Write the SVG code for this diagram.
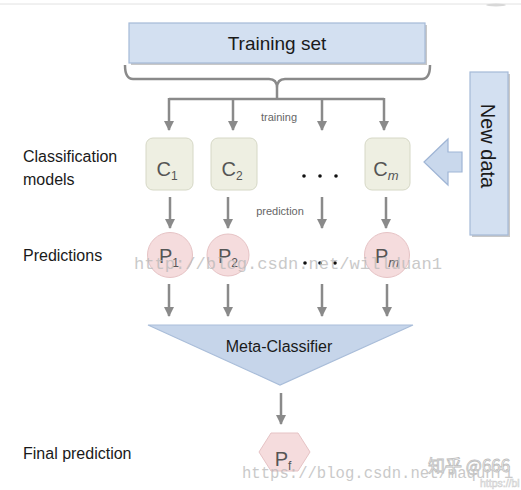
<svg xmlns="http://www.w3.org/2000/svg" width="521" height="490" viewBox="0 0 521 490">
<style>
.lbl{font-family:"Liberation Sans",Arial,sans-serif;font-size:16px;fill:#1a1a1a}
.small{font-family:"Liberation Sans",Arial,sans-serif;font-size:11px;fill:#666}
.sym{font-family:"Liberation Sans",Arial,sans-serif;font-size:20px;fill:#555}
.sub{font-size:12px}
.conn{stroke:#8a8a8a;stroke-width:2.5;fill:none}
.arr{stroke:#8a8a8a;stroke-width:2.5;fill:none;marker-end:url(#ah)}
.cbox{fill:#eeefe2;stroke:#d6d8c6;stroke-width:1}
.pc{fill:#f5dcdd;stroke:#e6c3c5;stroke-width:1}
.blue{fill:#d3e0f1;stroke:#a5bad8;stroke-width:1.2}
.wm{font-family:"Liberation Mono",monospace;font-size:17px;fill:#b8b8b8;opacity:0.75}
</style>
<defs>
<marker id="ah" viewBox="0 0 10 10" refX="9" refY="5" markerWidth="4" markerHeight="4" orient="auto" markerUnits="strokeWidth">
<path d="M0,0 L10,5 L0,10 z" fill="#8a8a8a"/>
</marker>
</defs>
<rect width="521" height="490" fill="#ffffff"/>
<line x1="0" y1="4" x2="521" y2="4" stroke="#e2e2e2" stroke-width="1"/>
<ellipse cx="496" cy="5" rx="10" ry="1.5" fill="#d8d8d8"/>

<g id="training-set">
<rect x="131" y="25" width="296" height="40" fill="#c8c8c8"/>
<rect x="129" y="23" width="296" height="40" class="blue"/>
<text x="277" y="50" text-anchor="middle" class="lbl" style="font-size:19px">Training set</text>
</g>

<g id="new-data">
<rect x="472" y="74" width="38" height="163" fill="#c8c8c8"/>
<rect x="470" y="72" width="38" height="163" class="blue"/>
<text transform="translate(481,146) rotate(90)" text-anchor="middle" class="lbl" style="font-size:20px">New data</text>
</g>

<g id="new-data-arrow">
<path d="M424,162 L448,139 L448,152 L462,152 L462,172 L448,172 L448,185 Z" fill="#c9d8ec" stroke="#9fb5d5" stroke-width="1.2"/>
</g>

<g id="labels">
<text x="23" y="162" class="lbl">Classification</text>
<text x="23" y="185" class="lbl">models</text>
<text x="23" y="261" class="lbl">Predictions</text>
<text x="23" y="459" class="lbl">Final prediction</text>
</g>

<g id="connectors">
<path class="conn" d="M125,65 Q125,79 133,79 L269,79 Q277,79 277,88 L277,99 M277,88 Q277,79 285,79 L422,79 Q430,79 430,65"/>
<line class="conn" x1="169" y1="99" x2="384" y2="99"/>
<line class="arr" x1="169" y1="98" x2="169" y2="130"/>
<line class="arr" x1="233" y1="98" x2="233" y2="130"/>
<line class="arr" x1="322" y1="98" x2="322" y2="130"/>
<line class="arr" x1="384" y1="98" x2="384" y2="130"/>
<text x="279" y="121" text-anchor="middle" class="small">training</text>
<line class="arr" x1="170" y1="197" x2="170" y2="228"/>
<line class="arr" x1="228" y1="197" x2="228" y2="228"/>
<line class="arr" x1="322" y1="197" x2="322" y2="228"/>
<line class="arr" x1="386" y1="197" x2="386" y2="228"/>
<text x="280" y="215" text-anchor="middle" class="small">prediction</text>
<line class="arr" x1="169" y1="284" x2="169" y2="316"/>
<line class="arr" x1="228" y1="284" x2="228" y2="316"/>
<line class="arr" x1="322" y1="284" x2="322" y2="316"/>
<line class="arr" x1="387" y1="284" x2="387" y2="316"/>
<line class="arr" x1="281" y1="393" x2="281" y2="424"/>
</g>

<g id="c1">
<rect x="146" y="138" width="47" height="52" rx="7" class="cbox"/>
<text x="167" y="176" text-anchor="middle" class="sym">C<tspan class="sub" dy="4">1</tspan></text>
</g>
<g id="c2">
<rect x="211" y="138" width="46" height="52" rx="7" class="cbox"/>
<text x="232" y="176" text-anchor="middle" class="sym">C<tspan class="sub" dy="4">2</tspan></text>
</g>
<g id="c-dots">
<circle cx="304" cy="176" r="1.8" fill="#111"/>
<circle cx="320" cy="176" r="1.8" fill="#111"/>
<circle cx="336" cy="176" r="1.8" fill="#111"/>
</g>
<g id="cm">
<rect x="365" y="138" width="45" height="52" rx="7" class="cbox"/>
<text x="386" y="176" text-anchor="middle" class="sym">C<tspan class="sub" dy="4" style="font-style:italic;font-size:13px">m</tspan></text>
</g>

<g id="p1">
<circle cx="170" cy="255" r="22.5" class="pc"/>
<text x="169" y="263" text-anchor="middle" class="sym">P<tspan class="sub" dy="4">1</tspan></text>
</g>
<g id="p2">
<circle cx="228" cy="255" r="21" class="pc"/>
<text x="228" y="263" text-anchor="middle" class="sym">P<tspan class="sub" dy="4">2</tspan></text>
</g>
<g id="p-dots">
<circle cx="305" cy="263" r="1.8" fill="#111"/>
<circle cx="320" cy="263" r="1.8" fill="#111"/>
<circle cx="335" cy="263" r="1.8" fill="#111"/>
</g>
<g id="pm">
<circle cx="387" cy="255" r="22.5" class="pc"/>
<text x="387" y="263" text-anchor="middle" class="sym">P<tspan class="sub" dy="4" style="font-style:italic;font-size:13px">m</tspan></text>
</g>

<g id="meta-classifier">
<polygon points="148,325 413,325 280,385" fill="#c6d5ea" stroke="#a9bdd9" stroke-width="1.2"/>
<text x="279" y="352" text-anchor="middle" class="lbl">Meta-Classifier</text>
</g>

<g id="pf">
<polygon points="259,452 271,433 298,433 310,452 298,471 271,471" fill="#f5dcdd" stroke="#e6c3c5" stroke-width="1"/>
<text x="283" y="466" text-anchor="middle" class="sym">P<tspan class="sub" dy="4">f</tspan></text>
</g>

<g id="watermarks">
<text x="134" y="269" class="wm" textLength="308" lengthAdjust="spacingAndGlyphs">http://blog.csdn.net/willduan1</text>
<text x="242" y="478" class="wm" style="font-size:15.6px">https://blog.csdn.net/maqunfi</text>
<text x="428" y="472" style="font-family:'Noto Sans CJK SC',sans-serif;font-size:17px;fill:#ffffff;stroke:#bdbdbd;stroke-width:0.8">知乎 @666</text>
<text x="480" y="487" style="font-family:'Liberation Sans',sans-serif;font-size:10.5px;fill:#ffffff;stroke:#cfcfcf;stroke-width:0.6">https://bl</text>
</g>
</svg>
